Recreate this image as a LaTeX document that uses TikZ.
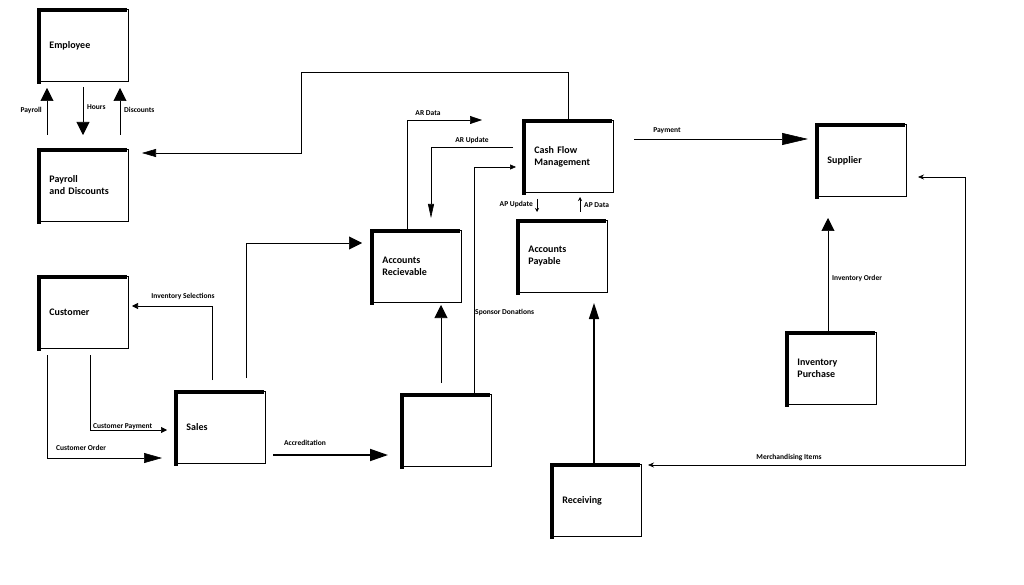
\documentclass[tikz,border=0pt]{standalone}
\usepackage{fontspec}
\setmainfont{Carlito}
\usetikzlibrary{arrows.meta}
\begin{document}
\begin{tikzpicture}[x=1pt,y=-1pt,
  box/.style={draw,line width=0.9pt,minimum width=88pt,minimum height=72pt,anchor=north west,
    text width=70pt,align=left,inner sep=0pt,font=\fontsize{10}{12}\selectfont\bfseries},
  lbl/.style={font=\fontsize{7.5}{9}\selectfont\bfseries,inner sep=1pt},
  ln/.style={draw,line width=0.6pt},
  big/.style={ln,-{Triangle[width=13pt,length=13pt]}},
  sml/.style={ln,-{Triangle[width=5pt,length=6pt]}},
  mid/.style={ln,-{Triangle[width=8pt,length=14pt]}}]
\useasboundingbox (0,0) rectangle (1024,585);
\newcommand{\bx}[4]{\node[box] (#1) at (#2+4,#3+4) {#4};
  \draw[line width=4pt] ([xshift=-1pt,yshift=-2pt]#1.south west) -- ([xshift=-1pt,yshift=-1pt]#1.north west) -- ([xshift=-2pt,yshift=-1pt]#1.north east);}
\bx{emp}{36}{5}{Employee}
\bx{pay}{36}{145}{Payroll\\and Discounts}
\bx{cus}{36}{272}{Customer}
\bx{sal}{173}{387}{Sales}
\bx{ar}{369}{226}{Accounts\\Recievable}
\bx{blank}{399}{390}{}
\bx{cf}{521}{116}{Cash Flow\\Management}
\bx{ap}{515}{216}{Accounts\\Payable}
\bx{sup}{814}{120}{Supplier}
\bx{inv}{784}{328}{Inventory\\Purchase}
\bx{rec}{549}{460}{Receiving}
% employee flows
\draw[big] (47,135) -- (47,88);
\node[lbl,anchor=east] at (43,110) {Payroll};
\draw[big] (83,87) -- (83,135);
\node[lbl,anchor=west] at (86,107) {Hours};
\draw[big] (120,135) -- (120,88);
\node[lbl,anchor=west] at (123,110) {Discounts};
% top loop
\coordinate (t1) at (568,72); \coordinate (t2) at (301,72); \coordinate (t3) at (301,153);
\draw[mid] (cf.north -| t1) -- (t1) -- (t2) -- (t3) -- (142,153);
% AR Data
\draw[ln,-{Triangle[width=8pt,length=12pt]}] (ar.north -| 407,0) -- (407,120) -- (482,120);
\node[lbl] at (428,113) {AR Data};
% AR Update
\draw[ln,-{Triangle[width=6pt,length=14pt]}] (513,147) -- (431,147) -- (431,218);
\node[lbl] at (472,140) {AR Update};
% Sponsor
\draw[sml] (blank.north -| 474,0) -- (474,167) -- (516,167);
\node[lbl,anchor=west] at (474,312) {Sponsor Donations};
% AP
\draw[ln,-{Stealth[length=4pt,width=4pt]}] (537,199) -- (537,212);
\node[lbl,anchor=east] at (534,204) {AP Update};
\draw[ln,-{Stealth[length=4pt,width=4pt]}] (580,212) -- (580,197);
\node[lbl,anchor=west] at (583,205) {AP Data};
% Payment
\draw[ln,-{Triangle[width=12pt,length=26pt]}] (634,139) -- (808,139);
\node[lbl] at (667,131) {Payment};
% Inventory order
\draw[big] (inv.north -| 828,0) -- (828,218);
\node[lbl,anchor=west] at (831,278) {Inventory Order};
% Merchandising
\coordinate (m1) at (965,177); \coordinate (m2) at (965,465);
\draw[ln,{Stealth[length=6pt,width=5pt]}-{Stealth[length=6pt,width=5pt]}] (918,177) -- (m1) -- (m2) -- (648,465);
\node[lbl] at (789,458) {Merchandising Items};
% Receiving -> AP
\draw[ln,line width=1.4pt,-{Triangle[width=10pt,length=16pt]}] (rec.north -| 594,0) -- (594,303);
% blank -> AR
\draw[big] (441,383) -- (441,305);
% Sales -> AR
\draw[big] (246,378) -- (246,243) -- (362,243);
% Inventory selections
\draw[ln,-{Triangle[width=6pt,length=6pt]}] (212,380) -- (212,306) -- (132,306);
\node[lbl] at (183,296) {Inventory Selections};
% Customer payment
\draw[ln,-{Triangle[width=6pt,length=6pt]}] (90,355) -- (90,430) -- (167,430);
\node[lbl,anchor=west] at (92,427) {Customer Payment};
% Customer order
\draw[ln,-{Triangle[width=10pt,length=18pt]}] (47,355) -- (47,458) -- (162,458);
\node[lbl,anchor=west] at (55,448) {Customer Order};
% Accreditation
\draw[ln,line width=1.8pt,-{Triangle[width=12pt,length=18pt]}] (273,455) -- (388,455);
\node[lbl] at (305,443) {Accreditation};
\end{tikzpicture}
\end{document}
